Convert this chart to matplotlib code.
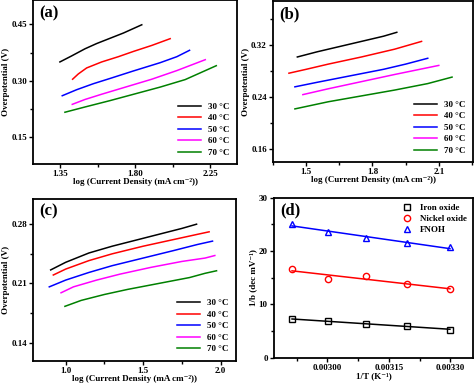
import matplotlib
matplotlib.use("Agg")
import matplotlib.pyplot as plt
import numpy as np
from matplotlib.ticker import AutoMinorLocator, FixedLocator

plt.rcParams['font.family'] = ['Liberation Serif', 'DejaVu Serif']
plt.rcParams['font.weight'] = 'bold'
plt.rcParams['axes.labelweight'] = 'bold'

temps = ["30 °C", "40 °C", "50 °C", "60 °C", "70 °C"]
colors = ['black', 'red', 'blue', 'magenta', 'green']

# panel (a): log j vs overpotential
a_x = [
    [1.35, 1.42, 1.50, 1.57, 1.65, 1.73, 1.84],
    [1.426, 1.46, 1.51, 1.60, 1.70, 1.79, 1.90, 2.01],
    [1.364, 1.45, 1.55, 1.65, 1.79, 1.95, 2.05, 2.126],
    [1.424, 1.50, 1.60, 1.75, 1.90, 2.05, 2.22],
    [1.38, 1.50, 1.65, 1.80, 1.95, 2.10, 2.286],
]
a_y = [
    [0.350, 0.366, 0.385, 0.399, 0.413, 0.427, 0.449],
    [0.304, 0.318, 0.334, 0.350, 0.364, 0.378, 0.394, 0.412],
    [0.260, 0.276, 0.292, 0.306, 0.326, 0.348, 0.364, 0.381],
    [0.237, 0.250, 0.264, 0.284, 0.304, 0.327, 0.356],
    [0.216, 0.230, 0.247, 0.265, 0.283, 0.303, 0.340],
]

# panel (b)
b_x = [
    [1.46, 1.55, 1.65, 1.75, 1.85, 1.91],
    [1.422, 1.50, 1.60, 1.75, 1.90, 2.022],
    [1.449, 1.55, 1.70, 1.85, 1.95, 2.05],
    [1.485, 1.60, 1.75, 1.90, 2.00, 2.10],
    [1.449, 1.60, 1.75, 1.90, 2.05, 2.16],
]
b_y = [
    [0.302, 0.310, 0.318, 0.326, 0.334, 0.340],
    [0.277, 0.283, 0.291, 0.302, 0.314, 0.326],
    [0.256, 0.263, 0.273, 0.283, 0.291, 0.300],
    [0.244, 0.253, 0.264, 0.275, 0.282, 0.289],
    [0.222, 0.233, 0.242, 0.251, 0.261, 0.271],
]

# panel (c)
c_x = [
    [0.903, 1.0, 1.15, 1.30, 1.45, 1.60, 1.75, 1.845],
    [0.92, 1.0, 1.15, 1.30, 1.50, 1.70, 1.85, 1.926],
    [0.894, 1.0, 1.15, 1.30, 1.50, 1.70, 1.85, 1.948],
    [0.97, 1.05, 1.20, 1.35, 1.55, 1.75, 1.90, 1.963],
    [0.995, 1.10, 1.25, 1.40, 1.60, 1.80, 1.90, 1.974],
]
c_y = [
    [0.226, 0.235, 0.246, 0.254, 0.261, 0.268, 0.275, 0.280],
    [0.220, 0.227, 0.237, 0.245, 0.254, 0.262, 0.268, 0.271],
    [0.206, 0.214, 0.223, 0.231, 0.240, 0.249, 0.256, 0.260],
    [0.199, 0.206, 0.214, 0.221, 0.229, 0.236, 0.240, 0.243],
    [0.183, 0.190, 0.197, 0.203, 0.210, 0.217, 0.222, 0.225],
]

# panel (d): 1/b vs 1/T
inv_T = [0.002914, 0.0030016, 0.003095, 0.0031934, 0.0032987]
iron = [7.2, 6.9, 6.4, 5.9, 5.3]
nickel = [16.6, 14.7, 15.3, 13.9, 12.8]
fnoh = [25.0, 23.6, 22.4, 21.5, 20.7]

fig = plt.figure(figsize=(4.74, 3.86), dpi=100)
ax_a = fig.add_axes([0.070, 0.575, 0.430, 0.425])
ax_b = fig.add_axes([0.576, 0.580, 0.422, 0.417])
ax_c = fig.add_axes([0.070, 0.066, 0.428, 0.419])
ax_d = fig.add_axes([0.578, 0.073, 0.420, 0.415])


def style(ax, letter):
    for s in ax.spines.values():
        s.set_linewidth(1.3)
    ax.tick_params(which='both', direction='out', top=False, right=False, labelsize=6.5, width=1, pad=1.5)
    ax.tick_params(which='major', length=3)
    ax.tick_params(which='minor', length=2)
    ax.xaxis.set_minor_locator(AutoMinorLocator(2))
    ax.yaxis.set_minor_locator(AutoMinorLocator(2))
    ax.text(0.03, 0.97, letter, transform=ax.transAxes, fontsize=12, fontweight='bold', va='top', ha='left')


def curves(ax, xs, ys):
    for x, y, c, t in zip(xs, ys, colors, temps):
        ax.plot(x, y, color=c, lw=1.1, label=t)
    ax.legend(loc='lower right', frameon=False, fontsize=6.5, handlelength=2.6, labelspacing=0.35, borderaxespad=0.4)
    ax.set_xlabel("log (Current Density (mA cm⁻²))", fontsize=6.5, labelpad=0)
    ax.set_ylabel("Overpotential (V)", fontsize=6.5, labelpad=1)


curves(ax_a, a_x, a_y)
ax_a.set_xlim(1.19, 2.41)
ax_a.set_ylim(0.078, 0.515)
ax_a.xaxis.set_major_locator(FixedLocator([1.35, 1.80, 2.25]))
ax_a.yaxis.set_major_locator(FixedLocator([0.15, 0.30, 0.45]))
ax_a.xaxis.set_major_formatter(plt.FormatStrFormatter('%.2f'))
ax_a.yaxis.set_major_formatter(plt.FormatStrFormatter('%.2f'))
style(ax_a, "(a)")

curves(ax_b, b_x, b_y)
ax_b.set_xlim(1.35, 2.255)
ax_b.set_ylim(0.14, 0.388)
ax_b.xaxis.set_major_locator(FixedLocator([1.5, 1.8, 2.1]))
ax_b.yaxis.set_major_locator(FixedLocator([0.16, 0.24, 0.32]))
ax_b.xaxis.set_major_formatter(plt.FormatStrFormatter('%.1f'))
ax_b.yaxis.set_major_formatter(plt.FormatStrFormatter('%.2f'))
style(ax_b, "(b)")

curves(ax_c, c_x, c_y)
ax_c.set_xlim(0.79, 2.1)
ax_c.set_ylim(0.119, 0.31)
ax_c.xaxis.set_major_locator(FixedLocator([1.0, 1.5, 2.0]))
ax_c.yaxis.set_major_locator(FixedLocator([0.14, 0.21, 0.28]))
ax_c.xaxis.set_major_formatter(plt.FormatStrFormatter('%.1f'))
ax_c.yaxis.set_major_formatter(plt.FormatStrFormatter('%.2f'))
style(ax_c, "(c)")

# panel d with linear fits
xs = np.array(inv_T)
for vals, c, m, lab in [(iron, 'black', 's', 'Iron oxide'), (nickel, 'red', 'o', 'Nickel oxide'), (fnoh, 'blue', '^', 'FNOH')]:
    ax_d.plot(xs, vals, linestyle='none', marker=m, mfc='none', mec=c, ms=4.5, mew=1, label=lab)
    k, b = np.polyfit(xs, vals, 1)
    ax_d.plot(xs, k * xs + b, color=c, lw=1.1)
ax_d.set_xlim(0.00287, 0.003355)
ax_d.set_ylim(0, 30)
ax_d.xaxis.set_major_locator(FixedLocator([0.00300, 0.00315, 0.00330]))
ax_d.xaxis.set_major_formatter(plt.FormatStrFormatter('%.5f'))
ax_d.yaxis.set_major_locator(FixedLocator([0, 10, 20, 30]))
ax_d.set_xlabel("1/T (K⁻¹)", fontsize=6.5, labelpad=0)
ax_d.set_ylabel("1/b (dec mV⁻¹)", fontsize=6.5, labelpad=1)
ax_d.legend(loc='upper right', frameon=False, fontsize=6.5, handlelength=1.2, labelspacing=0.3, borderaxespad=0.3)
style(ax_d, "(d)")

fig.savefig("out.png", dpi=100)
